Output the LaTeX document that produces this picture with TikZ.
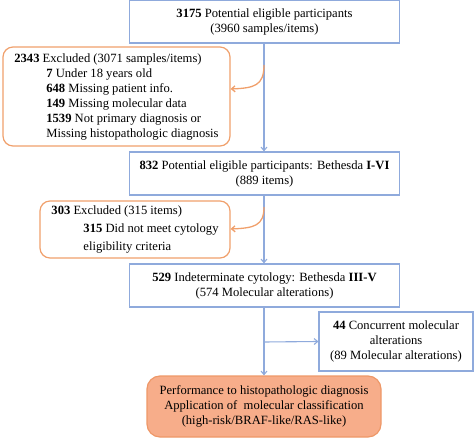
\documentclass[tikz,border=0pt]{standalone}
\usepackage{fontspec}
\setmainfont{Liberation Serif}
\usetikzlibrary{arrows.meta}
\definecolor{bl}{HTML}{8FAADC}
\definecolor{orl}{HTML}{F0A06C}
\definecolor{finfill}{HTML}{F7AD8A}
\definecolor{finborder}{HTML}{EE9868}
\tikzset{
  x=1pt,y=-1pt,
  every node/.style={font=\fontsize{12.6}{15}\selectfont, inner sep=0pt},
  bluebox/.style={draw=bl, line width=1.2pt, align=center},
  exbox/.style={draw=orl, line width=1.2pt, rounded corners=10pt, align=left},
  finbox/.style={draw=finborder, fill=finfill, line width=1.2pt, rounded corners=13pt, align=center},
  bline/.style={draw=bl, line width=1.1pt, -{Straight Barb[length=3.5pt,width=6pt]}},
  oline/.style={draw=orl, line width=1.3pt, -{Straight Barb[length=3.5pt,width=6pt]}},
}
\begin{document}
\begin{tikzpicture}
\useasboundingbox (0,0) rectangle (474,438);
\node[bluebox, minimum width=270pt, minimum height=43pt] (b1) at (264.5,21.5)
  {\textbf{3175} Potential eligible participants\\(3960 samples/items)};
\node[exbox, minimum width=227pt, minimum height=99pt] (e1) at (116.5,96.5)
  {\textbf{2343} Excluded (3071 samples/items)\\
   \hspace*{32pt}\textbf{7} Under 18 years old\\
   \hspace*{32pt}\textbf{648} Missing patient info.\\
   \hspace*{32pt}\textbf{149} Missing molecular data\\
   \hspace*{32pt}\textbf{1539} Not primary diagnosis or\\
   \hspace*{32pt}Missing histopathologic diagnosis};
\node[bluebox, minimum width=270pt, minimum height=43pt] (b2) at (264.5,173.5)
  {\textbf{832} Potential eligible participants: Bethesda \textbf{I-VI}\\(889 items)};
\node[exbox, minimum width=190pt, minimum height=57pt] (e2) at (135,229.5)
  {\textbf{303} Excluded (315 items)\\[3pt]
   \hspace*{32pt}\textbf{315} Did not meet cytology\\[3pt]
   \hspace*{32pt}eligibility criteria};
\node[bluebox, minimum width=270pt, minimum height=43pt] (b3) at (264.5,285.5)
  {\textbf{529} Indeterminate cytology: Bethesda \textbf{III-V}\\(574 Molecular alterations)};
\node[bluebox, minimum width=154pt, minimum height=59pt] (b4) at (396,341.5)
  {\textbf{44} Concurrent molecular\\alterations\\(89 Molecular alterations)};
\node[finbox, minimum width=234pt, minimum height=61pt] (f) at (264,406.5)
  {Performance to histopathologic diagnosis\\Application of \ molecular classification\\(high-risk/BRAF-like/RAS-like)};
\coordinate (s1) at (264,65);
\coordinate (t1) at (e1.east |- 0,89);
\coordinate (s2) at (264,207);
\coordinate (t2) at (e2.east |- 0,229);
\coordinate (br) at (264,342);
\draw[bline] (b1.south -| 264,0) -- (b2.north -| 264,0);
\draw[bline] (b2.south -| 264,0) -- (b3.north -| 264,0);
\draw[bline] (b3.south -| 264,0) -- (f.north);
\draw[bline] (br) -- (b4.west);
\draw[oline] (s1) .. controls (264,86) and (254,88) .. (t1);
\draw[oline] (s2) .. controls (264,226) and (254,228) .. (t2);
\end{tikzpicture}
\end{document}
